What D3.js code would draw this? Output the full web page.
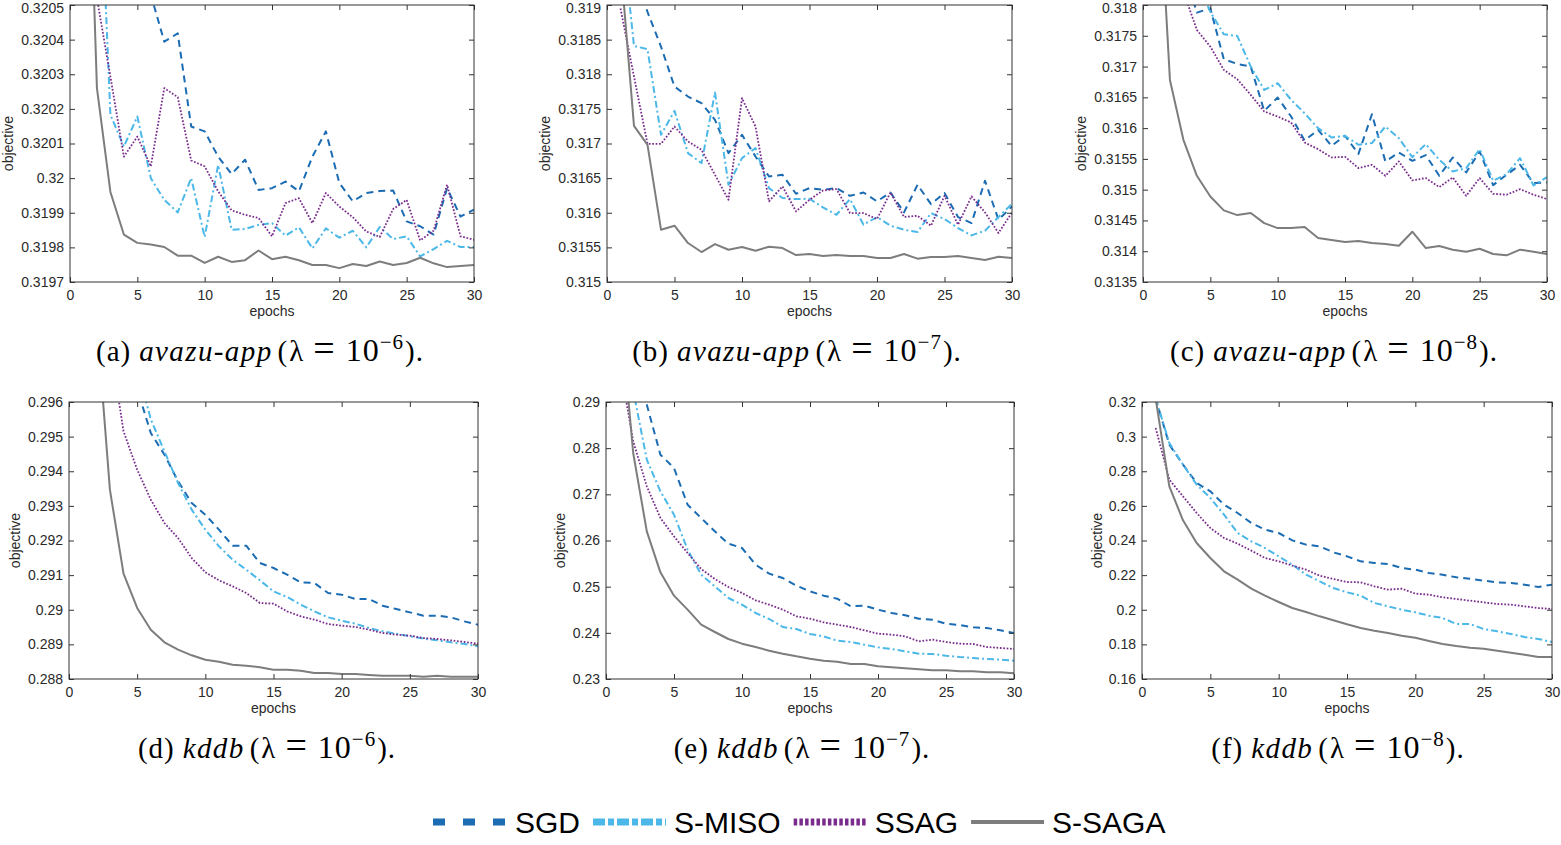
<!DOCTYPE html>
<html><head><meta charset="utf-8">
<script src="https://cdn.jsdelivr.net/npm/d3@7"></script>
<style>body{margin:0;background:#fff} svg{display:block}</style>
</head><body>
<svg id="chart" width="1561" height="845"></svg>
<script>
const epochs = [1,2,3,4,5,6,7,8,9,10,11,12,13,14,15,16,17,18,19,20,21,22,23,24,25,26,27,28,29,30];

// (a) avazu-app, lambda = 1e-6
const sgdA  = [0.3235,0.3218,0.3212,0.3209,0.3207,0.32053,0.320394,0.320418,0.320149,0.320135,0.320062,0.320012,0.320053,0.319966,0.319971,0.31999,0.319962,0.320062,0.320135,0.319986,0.319933,0.319957,0.319963,0.319964,0.319875,0.319861,0.319837,0.319971,0.319889,0.319909];
const misoA = [0.3225,0.3211,0.320183,0.320091,0.320178,0.32,0.319937,0.319901,0.32,0.31983,0.320038,0.319851,0.319853,0.319865,0.31987,0.319834,0.319858,0.319797,0.319855,0.319828,0.319848,0.3198,0.319859,0.319824,0.319832,0.319774,0.319795,0.319819,0.319801,0.319801];
const ssagA = [0.3215,0.32052,0.320293,0.320062,0.32012,0.320034,0.32026,0.320234,0.320051,0.320034,0.319962,0.319907,0.319894,0.319885,0.319832,0.319928,0.319942,0.31987,0.319957,0.319918,0.319887,0.319846,0.31983,0.319911,0.319937,0.31982,0.319848,0.319981,0.319832,0.319822];
const sagaA = [0.32146,0.32026,0.31996,0.319837,0.319813,0.319808,0.319801,0.319776,0.319776,0.319755,0.319773,0.319758,0.319763,0.319791,0.319766,0.319773,0.319763,0.319749,0.319749,0.31974,0.319752,0.319746,0.319759,0.319749,0.319755,0.31977,0.319754,0.319743,0.319746,0.319749];

// (b) avazu-app, lambda = 1e-7
const sgdB  = [0.3215,0.3195,0.3189,0.318399,0.317822,0.317678,0.317582,0.317342,0.316861,0.317125,0.316813,0.316524,0.316548,0.316274,0.316356,0.316332,0.316356,0.316245,0.316293,0.316164,0.316293,0.316005,0.316404,0.316125,0.316284,0.315938,0.315851,0.316462,0.315899,0.316091];
const misoB = [0.32026,0.318409,0.318361,0.317125,0.317471,0.316861,0.316716,0.317736,0.316404,0.316789,0.316933,0.316356,0.316212,0.316197,0.316202,0.316077,0.315971,0.316197,0.315827,0.315938,0.315813,0.315755,0.315721,0.315995,0.315909,0.315779,0.315673,0.315741,0.315938,0.31613];
const ssagB = [0.31895,0.317966,0.316995,0.316995,0.317245,0.317029,0.316909,0.316548,0.316188,0.317654,0.317245,0.316164,0.31638,0.316019,0.316188,0.316322,0.316341,0.315995,0.315995,0.315909,0.316293,0.315938,0.315957,0.315813,0.316245,0.315827,0.316236,0.316005,0.315707,0.316005];
const sagaB = [0.31961,0.317255,0.316981,0.315755,0.315813,0.315563,0.315433,0.315548,0.315466,0.315505,0.315452,0.31551,0.31549,0.315389,0.315404,0.315375,0.315389,0.315375,0.315375,0.315346,0.315346,0.315404,0.315337,0.315361,0.315361,0.315375,0.315346,0.315317,0.315365,0.315346];

// (c) avazu-app, lambda = 1e-8
const sgdC  = [0.3225,0.3198,0.3186,0.317876,0.317946,0.317119,0.317043,0.317,0.31628,0.316497,0.316188,0.315799,0.315972,0.315712,0.315875,0.315582,0.316226,0.315458,0.315604,0.315469,0.315561,0.315225,0.315523,0.31528,0.31562,0.315074,0.315242,0.315404,0.315106,0.315117];
const misoC = [0.3225,0.3198,0.3189,0.3184,0.31789,0.317524,0.317497,0.317,0.316621,0.316729,0.316459,0.316242,0.315999,0.315848,0.315875,0.315729,0.315756,0.316026,0.315837,0.315528,0.31574,0.315485,0.315296,0.31535,0.315658,0.315145,0.315253,0.315512,0.315068,0.315204];
const ssagC = [0.3205,0.3192,0.31822,0.317595,0.317324,0.316946,0.316794,0.31654,0.31627,0.316188,0.316091,0.315766,0.315658,0.315523,0.315534,0.31535,0.315404,0.315225,0.315458,0.31515,0.315188,0.315042,0.315199,0.314901,0.315188,0.314933,0.314917,0.315009,0.314917,0.314847];
const sagaC = [0.32071,0.316783,0.31581,0.315225,0.31489,0.314663,0.314587,0.31462,0.314457,0.314376,0.314376,0.314392,0.314214,0.314182,0.314149,0.314165,0.314133,0.314117,0.31409,0.314317,0.314052,0.314084,0.314025,0.313992,0.314041,0.313954,0.313933,0.314025,0.313992,0.313954];

// (d) kddb, lambda = 1e-6
const sgdD  = [0.312,0.303,0.2995,0.2975,0.29638,0.295105,0.294479,0.293709,0.293083,0.292746,0.292313,0.291851,0.291851,0.29135,0.291206,0.291013,0.290792,0.290773,0.290484,0.290436,0.290311,0.290311,0.290118,0.290022,0.289925,0.289829,0.289829,0.289781,0.289665,0.289569];
const misoD = [0.312,0.303,0.2995,0.298,0.297,0.2955,0.294575,0.293661,0.292891,0.292313,0.291832,0.291446,0.291158,0.29085,0.290532,0.290368,0.290147,0.289954,0.289781,0.289685,0.289598,0.289473,0.289377,0.28931,0.289232,0.289165,0.289117,0.289059,0.289011,0.288943];
const ssagD = [0.308,0.301,0.29772,0.295153,0.294046,0.293179,0.292505,0.292072,0.291494,0.291081,0.29085,0.290676,0.290484,0.290195,0.290176,0.289954,0.28981,0.289714,0.289588,0.28954,0.289502,0.289425,0.289329,0.28928,0.289252,0.289184,0.289155,0.289117,0.289069,0.28902];
const sagaD = [0.31,0.29853,0.293468,0.291042,0.290051,0.289425,0.289059,0.288847,0.288684,0.288558,0.2885,0.288414,0.288385,0.288337,0.28827,0.28827,0.288241,0.288173,0.288173,0.288144,0.288144,0.288116,0.288096,0.288096,0.288096,0.288067,0.288096,0.288067,0.288067,0.288067];

// (e) kddb, lambda = 1e-7
const sgdE  = [0.32,0.298,0.289421,0.278591,0.275703,0.267761,0.264873,0.261985,0.259313,0.258375,0.254765,0.252815,0.251877,0.250216,0.248989,0.24805,0.2474,0.24574,0.245884,0.245018,0.244296,0.24379,0.243068,0.242852,0.241985,0.241696,0.241191,0.241047,0.240541,0.239964];
const misoE = [0.31,0.2925,0.277508,0.270649,0.265595,0.258014,0.252599,0.250072,0.247545,0.246101,0.244296,0.242996,0.241263,0.24083,0.239747,0.239242,0.238303,0.238014,0.237437,0.236859,0.236498,0.235993,0.235487,0.235415,0.235054,0.234765,0.234549,0.234332,0.234188,0.233971];
const ssagE = [0.2985,0.281479,0.271732,0.264873,0.260902,0.257292,0.253826,0.25166,0.249927,0.248628,0.247039,0.246101,0.245018,0.243574,0.243068,0.242274,0.241769,0.241263,0.240541,0.239819,0.239603,0.239242,0.238159,0.23852,0.238014,0.237653,0.237581,0.236931,0.236714,0.236498];
const sagaE = [0.3114,0.278952,0.261985,0.253104,0.24805,0.245018,0.241769,0.24018,0.238664,0.237653,0.236931,0.236137,0.235487,0.23491,0.234404,0.233971,0.233754,0.233249,0.233249,0.232744,0.232527,0.23231,0.232094,0.231877,0.231877,0.231661,0.231661,0.231444,0.231444,0.231227];

// (f) kddb, lambda = 1e-8
const sgdF  = [0.322,0.295356,0.283803,0.273213,0.2684,0.260698,0.255885,0.250108,0.246257,0.244332,0.240096,0.237593,0.236631,0.233165,0.230854,0.227966,0.227004,0.226426,0.224116,0.223153,0.221228,0.220265,0.218725,0.217955,0.216799,0.215837,0.215452,0.214489,0.213141,0.214489];
const misoF = [0.322,0.296319,0.283803,0.27225,0.264551,0.254922,0.244332,0.239518,0.235667,0.230854,0.226041,0.220265,0.216414,0.212563,0.21006,0.208135,0.203899,0.201974,0.200048,0.198508,0.196583,0.195235,0.191769,0.191769,0.188881,0.187534,0.185993,0.184261,0.183105,0.181372];
const ssagF = [0.305,0.275138,0.265511,0.255885,0.24722,0.241444,0.238171,0.234128,0.229892,0.227966,0.225464,0.223153,0.219687,0.217762,0.216029,0.215837,0.213526,0.211601,0.212178,0.20929,0.208712,0.207172,0.20621,0.205247,0.204284,0.203322,0.202937,0.201974,0.201011,0.200434];
const sagaF = [0.322,0.271287,0.251649,0.238556,0.229892,0.22219,0.217377,0.212178,0.208135,0.204477,0.201011,0.198701,0.196198,0.193887,0.191577,0.189459,0.187918,0.186571,0.18503,0.183875,0.181949,0.180217,0.179061,0.178099,0.177521,0.176366,0.175211,0.174055,0.172708,0.172708];

// tick values
const xTicks = [0,5,10,15,20,25,30];
const yTicksA = [0.3197,0.3198,0.3199,0.32,0.3201,0.3202,0.3203,0.3204,0.3205];
const yTicksB = [0.315,0.3155,0.316,0.3165,0.317,0.3175,0.318,0.3185,0.319];
const yTicksC = [0.3135,0.314,0.3145,0.315,0.3155,0.316,0.3165,0.317,0.3175,0.318];
const yTicksD = [0.288,0.289,0.29,0.291,0.292,0.293,0.294,0.295,0.296];
const yTicksE = [0.23,0.24,0.25,0.26,0.27,0.28,0.29];
const yTicksF = [0.16,0.18,0.2,0.22,0.24,0.26,0.28,0.3,0.32];

const seriesNames = ["SGD","S-MISO","SSAG","S-SAGA"];
const captionLetters = ["a","b","c","d","e","f"];
const captionData = ["avazu-app","avazu-app","avazu-app","kddb","kddb","kddb"];
const captionExp = ["6","7","8","6","7","8"];

// styles
const colors = ["#1b6cb2","#4cb8e8","#7a2c8d","#7d7d7d"];
const dashes = ["7,5","7,3,2,3","1.7,1.7",null];
const legendDashes = ["12,18","12,3,6,3","3.5,2.2",null];
const legendWidths = [7,7,7,4];

const layout = [
  {box:[70,5,474,282],    ylabX:8,    capX:260},
  {box:[607,5,1012,282],  ylabX:545,  capX:797},
  {box:[1143,5,1547,282], ylabX:1081, capX:1334},
  {box:[69,402,478,679],  ylabX:15,   capX:267},
  {box:[606,402,1014,679],ylabX:560,  capX:802},
  {box:[1142,402,1552,679],ylabX:1097,capX:1338}
];
const panelSeries = [
  [sgdA,misoA,ssagA,sagaA],[sgdB,misoB,ssagB,sagaB],[sgdC,misoC,ssagC,sagaC],
  [sgdD,misoD,ssagD,sagaD],[sgdE,misoE,ssagE,sagaE],[sgdF,misoF,ssagF,sagaF]
];
const panelTicks = [yTicksA,yTicksB,yTicksC,yTicksD,yTicksE,yTicksF];

const svg = d3.select("#chart");
const fmt = v => String(+v.toFixed(6));
const TXT = "#2a2a2a";
const SANS = "Liberation Sans, Arial, sans-serif";
const SERIF = "Liberation Serif, Times New Roman, serif";

layout.forEach((L, p) => {
  const [x0,y0,x1,y1] = L.box;
  const yt = panelTicks[p];
  const x = d3.scaleLinear().domain([0,30]).range([x0,x1]);
  const y = d3.scaleLinear().domain([yt[0], yt[yt.length-1]]).range([y1,y0]);
  const g = svg.append("g");

  const clipId = "clip"+p;
  svg.append("clipPath").attr("id",clipId).append("rect")
    .attr("x",x0).attr("y",y0).attr("width",x1-x0).attr("height",y1-y0);

  const line = d3.line().x((d,i)=>x(epochs[i])).y(d=>y(d));
  const lg = g.append("g").attr("clip-path",`url(#${clipId})`);
  panelSeries[p].forEach((vals, s) => {
    lg.append("path").attr("d", line(vals))
      .attr("fill","none").attr("stroke",colors[s])
      .attr("stroke-width", s===2 ? 1.8 : 2)
      .attr("stroke-dasharray", dashes[s])
      .attr("stroke-linejoin","round");
  });

  const styleAxis = (sel) => {
    sel.select(".domain").remove();
    sel.selectAll(".tick line").attr("stroke","#333").attr("stroke-width",1);
    sel.selectAll(".tick text").attr("fill",TXT).attr("font-family",SANS).attr("font-size",14);
  };
  g.append("g").attr("transform",`translate(0,${y1})`)
    .call(d3.axisBottom(x).tickValues(xTicks).tickSize(-5).tickPadding(8).tickFormat(d3.format("d"))).call(styleAxis);
  g.append("g").attr("transform",`translate(0,${y0})`)
    .call(d3.axisTop(x).tickValues(xTicks).tickSize(-5).tickFormat("")).call(styleAxis);
  const ly = g.append("g").attr("transform",`translate(${x0},0)`)
    .call(d3.axisLeft(y).tickValues(yt).tickSize(-5).tickPadding(6).tickFormat(fmt)).call(styleAxis);
  // keep the topmost label inside the page
  ly.selectAll(".tick text").filter(d => y(d) < 9).attr("y", d => 9 - y(d) - 0.5);
  g.append("g").attr("transform",`translate(${x1},0)`)
    .call(d3.axisRight(y).tickValues(yt).tickSize(-5).tickFormat("")).call(styleAxis);

  g.append("rect").attr("x",x0).attr("y",y0).attr("width",x1-x0).attr("height",y1-y0)
    .attr("fill","none").attr("stroke","#333").attr("stroke-width",1);

  g.append("text").attr("x",(x0+x1)/2).attr("y",y1+34).attr("text-anchor","middle")
    .attr("font-family",SANS).attr("font-size",14).attr("fill",TXT).text("epochs");
  g.append("text").attr("transform",`translate(${L.ylabX+5},${(y0+y1)/2}) rotate(-90)`)
    .attr("text-anchor","middle").attr("font-family",SANS)
    .attr("font-size",14).attr("fill",TXT).text("objective");

  // caption
  const capY = p < 3 ? 361 : 758;
  const t = svg.append("text").attr("x",L.capX).attr("y",capY).attr("text-anchor","middle")
    .attr("font-family",SERIF).attr("font-size",29).attr("letter-spacing",1).attr("fill","#000");
  t.append("tspan").text(`(${captionLetters[p]})`);
  t.append("tspan").attr("dx",8).attr("font-style","italic").attr("letter-spacing",1.4).text(captionData[p]);
  t.append("tspan").attr("dx",5).text("(");
  t.append("tspan").attr("dx",1).text("λ");
  t.append("tspan").attr("dx",9).attr("font-size",38).attr("letter-spacing",0).text("=");
  t.append("tspan").attr("dx",11).attr("font-size",32).attr("letter-spacing",1).text("10");
  t.append("tspan").attr("font-size",21).attr("dy",-12).text("−" + captionExp[p]);
  t.append("tspan").attr("dx",1).attr("dy",12).text(").");
});

// legend
const legY = 822;
let lx = 433;
seriesNames.forEach((name, s) => {
  const w = s===0 ? 74 : 73;
  svg.append("line").attr("x1",lx).attr("x2",lx+w).attr("y1",legY).attr("y2",legY)
    .attr("stroke",colors[s]).attr("stroke-width",legendWidths[s])
    .attr("stroke-dasharray",legendDashes[s]);
  const tx = svg.append("text").attr("x",lx+w+8).attr("y",legY+10.5)
    .attr("font-family",SANS).attr("font-size",30).attr("fill","#000").text(name);
  lx = lx + w + 8 + tx.node().getComputedTextLength() + 13;
});
</script>
</body></html>
